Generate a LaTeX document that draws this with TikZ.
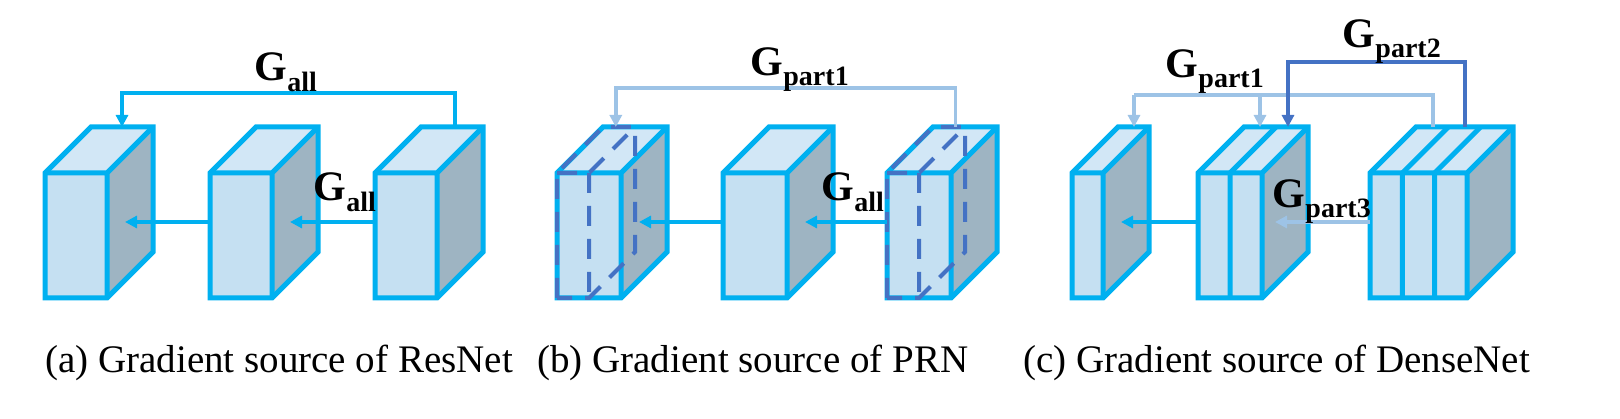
\documentclass[tikz,border=0pt]{standalone}
\usepackage{fontspec}
\setmainfont{Liberation Serif}
\usetikzlibrary{arrows.meta,calc}
\definecolor{edgec}{HTML}{00B0F0}
\definecolor{frontc}{HTML}{C5E0F2}
\definecolor{topc}{HTML}{D2E7F6}
\definecolor{sidec}{HTML}{9EB4C2}
\definecolor{lightc}{HTML}{9DC3E6}
\definecolor{darkc}{HTML}{4472C4}
\newcommand\mycube[4]{%
 \fill[frontc] (#2,173) rectangle ++(#3,125);
 \fill[topc] (#2,173) -- ++(46,-46) -- ++(#3,0) -- ++(-46,46) -- cycle;
 \fill[sidec] (#2+#3,173) -- ++(46,-46) -- ++(0,125) -- ++(-46,46) -- cycle;
 \draw[edge] (#2,298) -- (#2,173) -- ++(46,-46) -- ++(#3,0) -- ++(0,125) -- ++(-46,46) -- cycle;
 \draw[edge] (#2,173) -- ++(#3,0) -- ++(46,-46) (#2+#3,173) -- ++(0,125);
 \ifnum#4>1 \foreach \i in {2,...,#4}{\draw[edge] ({#2+(\i-1)*#3/#4},298) -- ({#2+(\i-1)*#3/#4},173) -- ++(46,-46);}\fi
 \coordinate (#1-l) at (#2,222);
 \coordinate (#1-in) at (#2+#3+18,222);
 \coordinate (#1-bl) at (#2+46,127);
 \coordinate (#1-br) at (#2+#3+46,127);
}
\newcommand\halfdash[2]{%
 \draw[dashbox] (#1,298) -- (#1,173) -- ++(46,-46) -- ++(#2/2,0) -- ++(0,125) -- ++(-46,46) -- cycle;
 \draw[dashbox] (#1,173) -- ++(#2/2,0) -- ++(46,-46) (#1+#2/2,173) -- ++(0,125);
}
\tikzset{
 edge/.style={draw=edgec,line width=5pt,line join=miter},
 dashbox/.style={draw=darkc,line width=4pt,dash pattern=on 20pt off 13pt},
 arr/.style={line width=3.5pt,-{Triangle[width=12pt,length=12pt]}},
 lbl/.style={font=\fontsize{42}{44}\selectfont\bfseries,inner sep=0pt},
 captext/.style={font=\fontsize{39}{42}\selectfont,anchor=west,inner sep=0pt},
}
\newcommand\G[1]{G\textsubscript{\fontsize{28}{29}\selectfont #1}}
\begin{document}
\begin{tikzpicture}[x=1pt,y=-1pt]
\useasboundingbox (0,0) rectangle (1620,419);
% panel a
\mycube{a1}{45}{62}{1}\mycube{a2}{210}{62}{1}\mycube{a3}{375}{62}{1}
\draw[arr,edgec] (a2-l) -- (a1-in);
\draw[arr,edgec] (a3-l) -- (a2-in);
\draw[arr,edgec] ($(a3-bl)!0.55!(a3-br)$) -- ++(0,-34) -| ($(a1-bl)!0.5!(a1-br)$);
\node[lbl] (la1) at (286,72) {\G{all}};
\node[lbl] (la2) at (345,192) {\G{all}};
% panel b
\mycube{b1}{557}{64}{1}\mycube{b2}{723}{64}{1}\mycube{b3}{887}{64}{1}
\halfdash{557}{64}\halfdash{887}{64}
\draw[arr,edgec] (b2-l) -- (b1-in);
\draw[arr,edgec] (b3-l) -- (b2-in);
\draw[arr,lightc] ($(b3-bl)!0.35!(b3-br)$) -- ++(0,-39) -| ($(b1-bl)!0.2!(b1-br)$);
\node[lbl] (lb1) at (800,70) {\G{part1}};
\node[lbl] (lb2) at (853,192) {\G{all}};
% panel c
\mycube{c1}{1072}{31}{1}\mycube{c2}{1198}{64}{2}\mycube{c3}{1370}{97}{3}
\draw[arr,edgec] (c2-l) -- (c1-in);
\draw[arr,lightc] (c3-l) -- ($(c2-in)+(-5,0)$);
\draw[line width=3.5pt,lightc] ($(c3-bl)+(17,0)$) -- ++(0,-32) -- ($(c1-bl)+(16,-32)$);
\draw[arr,lightc] ($(c1-bl)+(16,-32)$) -- ($(c1-bl)+(16,0)$);
\draw[arr,lightc] ($(c2-bl)+(16,-32)$) -- ($(c2-bl)+(16,0)$);
\draw[arr,darkc] ($(c3-bl)+(49,0)$) -- ++(0,-65) -| ($(c2-bl)+(44,0)$);
\node[lbl] (lc1) at (1215,72) {\G{part1}};
\node[lbl] (lc2) at (1392,42) {\G{part2}};
\node[lbl] (lc3) at (1322,202) {\G{part3}};
% captions
\node[captext] (ca) at (45,363) {(a) Gradient source of ResNet};
\node[captext] (cb) at (537,363) {(b) Gradient source of PRN};
\node[captext] (cc) at (1023,363) {(c) Gradient source of DenseNet};
\end{tikzpicture}
\end{document}
